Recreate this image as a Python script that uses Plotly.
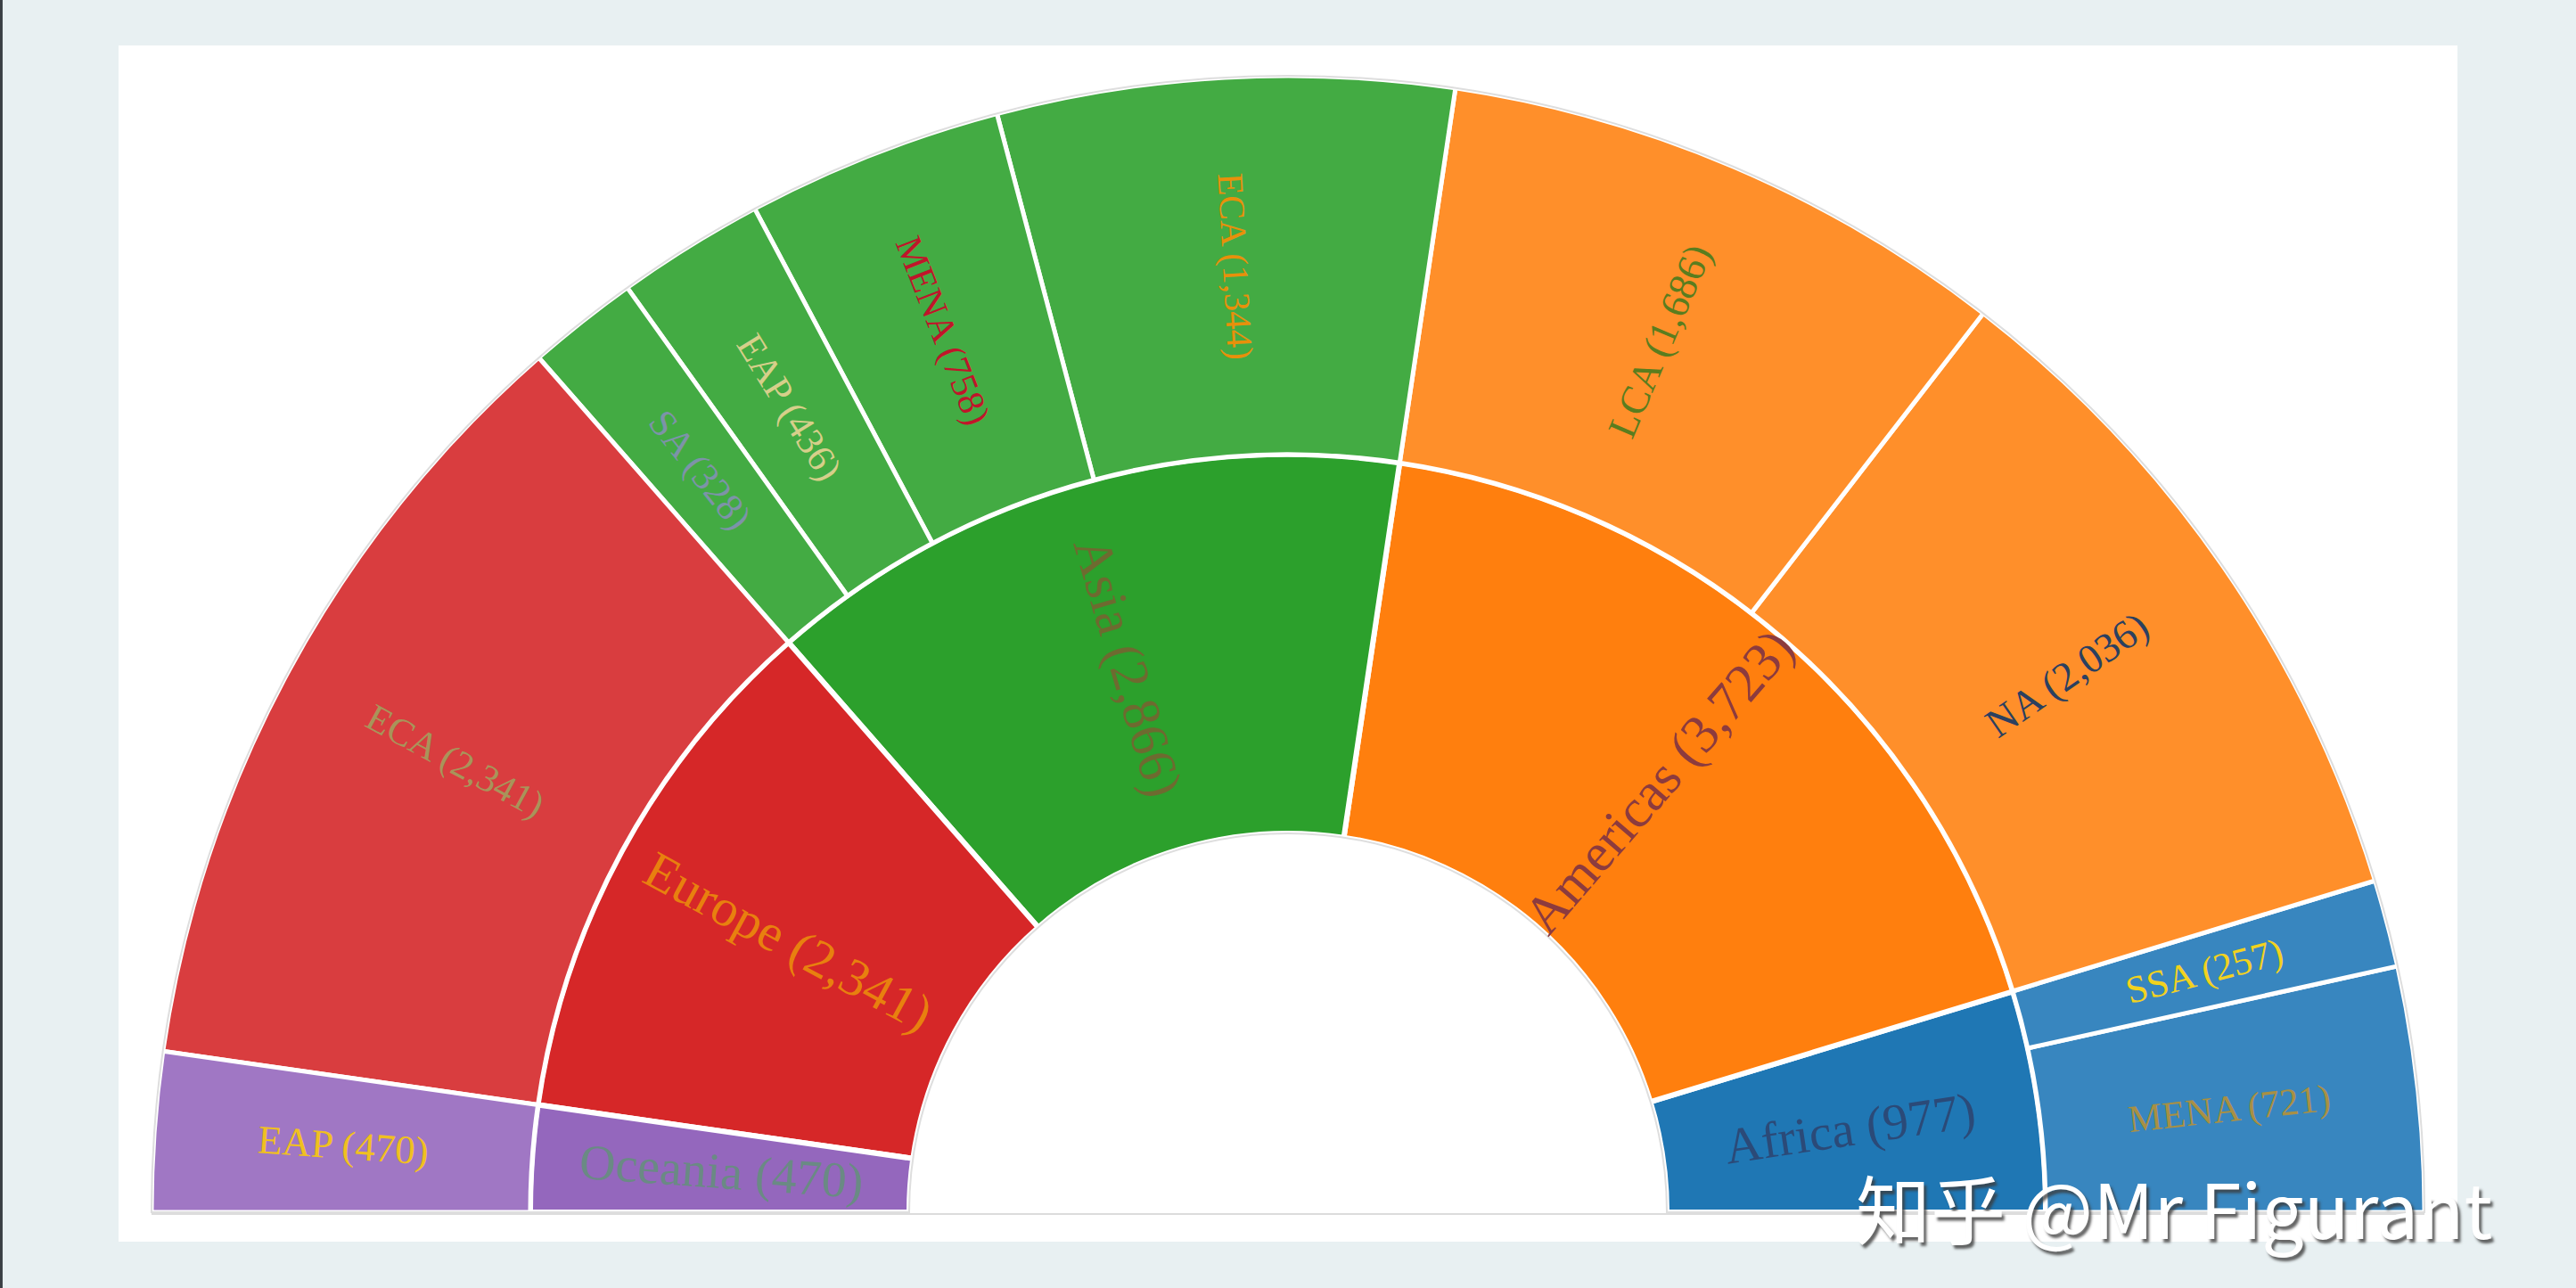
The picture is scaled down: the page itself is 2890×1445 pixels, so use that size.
import numpy as np
import plotly.graph_objects as go

# inner ring: regions, counterclockwise from 3 o'clock
regions = ["Africa", "Americas", "Asia", "Europe", "Oceania"]
region_values = [977, 3723, 2866, 2341, 470]

# outer ring: sub-regions in the same angular order
sub_parents = ["Africa", "Africa", "Americas", "Americas", "Asia", "Asia", "Asia", "Asia", "Europe", "Oceania"]
sub_labels = ["MENA", "SSA", "NA", "LCA", "ECA", "MENA", "EAP", "SA", "ECA", "EAP"]
sub_values = [721, 257, 2036, 1686, 1344, 758, 436, 328, 2341, 470]

# styles
region_colors = {"Africa": "#1f77b4", "Americas": "#ff7f0e", "Asia": "#2ca02c",
                 "Europe": "#d62728", "Oceania": "#9467bd"}
sub_colors = {"Africa": "#3886bf", "Americas": "#ff8f2a", "Asia": "#43ab43",
              "Europe": "#d93d3f", "Oceania": "#a077c4"}
region_text_colors = ["#2b4a78", "#8c3b3e", "#6e6a30", "#e8800f", "#6a8a84"]
sub_text_colors = ["#a89044", "#f2d21e", "#2b4060", "#5a7d1e", "#e8900a",
                   "#c0152a", "#d6cf8a", "#7d93a8", "#a8945a", "#f0c020"]
region_font = [57, 61, 60, 59, 56]
sub_font = [43, 43, 46, 45, 41, 42, 43, 43, 43, 45]

W, H = 2890, 1445


def sectors(values):
    v = np.array(values, dtype=float)
    ends = np.cumsum(v) / v.sum() * 180.0
    starts = ends - v / v.sum() * 180.0
    return (starts + ends) / 2, ends - starts


reg_mid, reg_w = sectors(region_values)
sub_mid, sub_w = sectors(sub_values)

fig = go.Figure()
fig.add_trace(go.Barpolar(
    r=[1] * len(regions), base=[0] * len(regions), theta=reg_mid, width=reg_w,
    marker=dict(color=[region_colors[g] for g in regions], line=dict(color="white", width=6)),
    text=regions, hoverinfo="text", showlegend=False))
fig.add_trace(go.Barpolar(
    r=[1] * len(sub_labels), base=[1] * len(sub_labels), theta=sub_mid, width=sub_w,
    marker=dict(color=[sub_colors[p] for p in sub_parents], line=dict(color="white", width=5)),
    text=sub_labels, hoverinfo="text", showlegend=False))

# polar domain: half disc of radius R centred at (cx, cy) pixels from bottom-left
dom_x = [0.0588, 0.9412]
dom_y = [0.0588, 0.9412]
R = (dom_x[1] - dom_x[0]) * W / 2
cx = (dom_x[0] + dom_x[1]) / 2 * W
cy = dom_y[0] * H


def radial_label(text, theta, ring, color, size):
    r = R * (ring + 0.5) / 3
    t = np.radians(theta)
    ang = -theta if theta < 90 else 180 - theta
    fig.add_annotation(x=(cx + r * np.cos(t)) / W, y=(cy + r * np.sin(t)) / H,
                       xref="paper", yref="paper", text=text, showarrow=False,
                       textangle=ang, xanchor="center", yanchor="middle",
                       font=dict(family="Liberation Serif", size=size, color=color))


for g, v, th, c, s in zip(regions, region_values, reg_mid, region_text_colors, region_font):
    radial_label(f"{g} ({v:,})", th, 1, c, s)
for g, v, th, c, s in zip(sub_labels, sub_values, sub_mid, sub_text_colors, sub_font):
    radial_label(f"{g} ({v:,})", th, 2, c, s)

fig.update_layout(
    width=W, height=H,
    margin=dict(l=0, r=0, t=0, b=0),
    paper_bgcolor="#e8f0f2",
    polar=dict(
        domain=dict(x=dom_x, y=dom_y),
        sector=[0, 180], hole=1 / 3, bargap=0, bgcolor="white",
        radialaxis=dict(range=[0, 2], visible=False),
        angularaxis=dict(direction="counterclockwise", rotation=0, showgrid=False,
                         showticklabels=False, ticks="", showline=True,
                         linecolor="#dedede", linewidth=2),
    ),
    shapes=[
        dict(type="rect", xref="paper", yref="paper", x0=133 / W, x1=2757 / W,
             y0=52 / H, y1=1394 / H, fillcolor="white", line=dict(width=0), layer="below"),
        dict(type="line", xref="paper", yref="paper", x0=(cx - R) / W, x1=(cx + R) / W,
             y0=(cy - 2) / H, y1=(cy - 2) / H, line=dict(color="#dcdcdc", width=2)),
        dict(type="line", xref="paper", yref="paper", x0=0.0005, x1=0.0005, y0=0, y1=1,
             line=dict(color="#3a3f44", width=3)),
    ],
)

fig.add_annotation(x=2080 / W, y=92 / H, xref="paper", yref="paper",
                   text="知乎 @Mr Figurant", showarrow=False, xanchor="left", yanchor="middle",
                   font=dict(family="Noto Sans CJK SC", size=84, color="white",
                             shadow="3px 4px 3px rgba(60,60,60,0.8)"))

fig.write_html("out.html", config={"displayModeBar": False},
               post_script="document.body.style.margin='0';")
